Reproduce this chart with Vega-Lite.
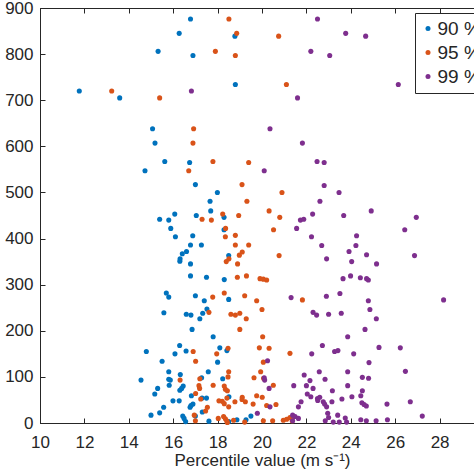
{
"$schema": "https://vega.github.io/schema/vega-lite/v6.json",
"width": 444, "height": 415,
"autosize": {"type": "none"},
"padding": {"left": 40, "top": 8, "right": 0, "bottom": 51},
"config": {
  "font": "Liberation Sans",
  "view": {"stroke": "#262626", "strokeWidth": 1},
  "axis": {"domainColor": "#262626", "tickColor": "#262626", "labelColor": "#262626", "titleColor": "#262626", "grid": false, "labelFontSize": 17, "titleFontSize": 17, "titleFontWeight": "normal", "tickSize": -5, "domainWidth": 1, "tickWidth": 1, "labelFlush": false}
},
"datasets": {
"pts": [
{"series":"90 %","value":16.78,"height":876},{"series":"90 %","value":16.27,"height":845},{"series":"90 %","value":15.32,"height":806},{"series":"90 %","value":16.89,"height":797},{"series":"90 %","value":18.78,"height":839},{"series":"90 %","value":18.8,"height":734},{"series":"90 %","value":15.07,"height":638},{"series":"90 %","value":15.18,"height":607},{"series":"90 %","value":15.62,"height":567},{"series":"90 %","value":16.74,"height":565},{"series":"90 %","value":14.73,"height":547},{"series":"90 %","value":17.0,"height":517},{"series":"90 %","value":11.77,"height":720},{"series":"90 %","value":13.59,"height":705},{"series":"90 %","value":17.99,"height":500},{"series":"90 %","value":17.66,"height":481},{"series":"90 %","value":17.69,"height":460},{"series":"90 %","value":18.29,"height":446},{"series":"90 %","value":17.04,"height":450},{"series":"90 %","value":16.07,"height":453},{"series":"90 %","value":15.39,"height":442},{"series":"90 %","value":15.8,"height":440},{"series":"90 %","value":15.89,"height":422},{"series":"90 %","value":16.1,"height":404},{"series":"90 %","value":16.88,"height":406},{"series":"90 %","value":18.29,"height":419},{"series":"90 %","value":16.78,"height":386},{"series":"90 %","value":17.27,"height":386},{"series":"90 %","value":16.6,"height":372},{"series":"90 %","value":16.41,"height":367},{"series":"90 %","value":16.31,"height":356},{"series":"90 %","value":16.3,"height":351},{"series":"90 %","value":16.78,"height":345},{"series":"90 %","value":18.5,"height":363},{"series":"90 %","value":16.78,"height":319},{"series":"90 %","value":17.5,"height":316},{"series":"90 %","value":18.3,"height":311},{"series":"90 %","value":15.69,"height":282},{"series":"90 %","value":15.8,"height":273},{"series":"90 %","value":17.0,"height":276},{"series":"90 %","value":17.4,"height":265},{"series":"90 %","value":18.5,"height":268},{"series":"90 %","value":17.52,"height":247},{"series":"90 %","value":17.33,"height":238},{"series":"90 %","value":17.2,"height":226},{"series":"90 %","value":15.58,"height":239},{"series":"90 %","value":16.59,"height":236},{"series":"90 %","value":16.8,"height":234},{"series":"90 %","value":16.85,"height":203},{"series":"90 %","value":17.8,"height":187},{"series":"90 %","value":16.29,"height":168},{"series":"90 %","value":18.1,"height":163},{"series":"90 %","value":14.79,"height":155},{"series":"90 %","value":16.08,"height":150},{"series":"90 %","value":16.58,"height":156},{"series":"90 %","value":18.42,"height":157},{"series":"90 %","value":18.0,"height":132},{"series":"90 %","value":15.5,"height":134},{"series":"90 %","value":17.58,"height":111},{"series":"90 %","value":15.8,"height":111},{"series":"90 %","value":16.32,"height":105},{"series":"90 %","value":14.55,"height":93},{"series":"90 %","value":15.8,"height":95},{"series":"90 %","value":15.87,"height":93},{"series":"90 %","value":17.28,"height":98},{"series":"90 %","value":18.23,"height":96},{"series":"90 %","value":15.82,"height":82},{"series":"90 %","value":16.45,"height":80},{"series":"90 %","value":16.38,"height":75},{"series":"90 %","value":16.3,"height":71},{"series":"90 %","value":15.3,"height":75},{"series":"90 %","value":15.17,"height":63},{"series":"90 %","value":16.82,"height":59},{"series":"90 %","value":17.3,"height":54},{"series":"90 %","value":17.5,"height":54},{"series":"90 %","value":15.99,"height":48},{"series":"90 %","value":16.27,"height":48},{"series":"90 %","value":18.51,"height":57},{"series":"90 %","value":16.89,"height":41},{"series":"90 %","value":16.76,"height":34},{"series":"90 %","value":16.8,"height":38},{"series":"90 %","value":15.57,"height":34},{"series":"90 %","value":15.39,"height":22},{"series":"90 %","value":15.0,"height":17},{"series":"90 %","value":17.31,"height":24},{"series":"90 %","value":17.0,"height":15},{"series":"90 %","value":16.43,"height":15},{"series":"90 %","value":16.49,"height":10},{"series":"90 %","value":16.56,"height":3},{"series":"90 %","value":17.61,"height":4},{"series":"90 %","value":18.5,"height":3},{"series":"90 %","value":18.87,"height":7},{"series":"90 %","value":19.28,"height":7},{"series":"90 %","value":19.5,"height":15},
{"series":"95 %","value":18.51,"height":876},{"series":"95 %","value":18.86,"height":845},{"series":"95 %","value":20.75,"height":839},{"series":"95 %","value":17.9,"height":806},{"series":"95 %","value":18.8,"height":797},{"series":"95 %","value":21.1,"height":734},{"series":"95 %","value":15.39,"height":705},{"series":"95 %","value":16.92,"height":638},{"series":"95 %","value":16.89,"height":607},{"series":"95 %","value":17.79,"height":567},{"series":"95 %","value":19.4,"height":565},{"series":"95 %","value":16.7,"height":547},{"series":"95 %","value":19.1,"height":517},{"series":"95 %","value":13.23,"height":720},{"series":"95 %","value":18.23,"height":453},{"series":"95 %","value":17.72,"height":440},{"series":"95 %","value":17.3,"height":442},{"series":"95 %","value":18.36,"height":422},{"series":"95 %","value":18.35,"height":404},{"series":"95 %","value":18.8,"height":407},{"series":"95 %","value":18.95,"height":450},{"series":"95 %","value":20.9,"height":500},{"series":"95 %","value":19.32,"height":481},{"series":"95 %","value":20.32,"height":460},{"series":"95 %","value":20.8,"height":446},{"series":"95 %","value":20.52,"height":419},{"series":"95 %","value":18.8,"height":386},{"series":"95 %","value":19.4,"height":386},{"series":"95 %","value":19.11,"height":371},{"series":"95 %","value":18.98,"height":364},{"series":"95 %","value":18.51,"height":356},{"series":"95 %","value":18.39,"height":350},{"series":"95 %","value":18.9,"height":345},{"series":"95 %","value":18.89,"height":316},{"series":"95 %","value":19.3,"height":319},{"series":"95 %","value":17.78,"height":273},{"series":"95 %","value":18.3,"height":282},{"series":"95 %","value":19.22,"height":276},{"series":"95 %","value":20.77,"height":363},{"series":"95 %","value":19.91,"height":313},{"series":"95 %","value":20.06,"height":312},{"series":"95 %","value":20.21,"height":310},{"series":"95 %","value":19.76,"height":265},{"series":"95 %","value":21.82,"height":267},{"series":"95 %","value":17.61,"height":240},{"series":"95 %","value":18.6,"height":236},{"series":"95 %","value":18.8,"height":234},{"series":"95 %","value":19.0,"height":238},{"series":"95 %","value":19.29,"height":226},{"series":"95 %","value":19.0,"height":203},{"series":"95 %","value":20.0,"height":246},{"series":"95 %","value":20.03,"height":187},{"series":"95 %","value":19.88,"height":163},{"series":"95 %","value":20.32,"height":162},{"series":"95 %","value":21.26,"height":151},{"series":"95 %","value":16.9,"height":155},{"series":"95 %","value":18.47,"height":162},{"series":"95 %","value":17.96,"height":150},{"series":"95 %","value":17.01,"height":134},{"series":"95 %","value":18.5,"height":111},{"series":"95 %","value":18.47,"height":100},{"series":"95 %","value":16.31,"height":93},{"series":"95 %","value":17.2,"height":96},{"series":"95 %","value":17.16,"height":81},{"series":"95 %","value":17.8,"height":82},{"series":"95 %","value":18.3,"height":80},{"series":"95 %","value":18.35,"height":73},{"series":"95 %","value":18.44,"height":70},{"series":"95 %","value":17.19,"height":75},{"series":"95 %","value":17.01,"height":64},{"series":"95 %","value":17.24,"height":52},{"series":"95 %","value":18.06,"height":48},{"series":"95 %","value":18.21,"height":47},{"series":"95 %","value":18.42,"height":54},{"series":"95 %","value":18.78,"height":46},{"series":"95 %","value":19.11,"height":56},{"series":"95 %","value":19.25,"height":46},{"series":"95 %","value":18.3,"height":42},{"series":"95 %","value":18.5,"height":35},{"series":"95 %","value":17.54,"height":34},{"series":"95 %","value":17.46,"height":26},{"series":"95 %","value":16.95,"height":17},{"series":"95 %","value":18.03,"height":10},{"series":"95 %","value":18.27,"height":14},{"series":"95 %","value":18.35,"height":9},{"series":"95 %","value":18.41,"height":5},{"series":"95 %","value":18.44,"height":1},{"series":"95 %","value":17.0,"height":5},{"series":"95 %","value":18.72,"height":6},{"series":"95 %","value":19.22,"height":2},{"series":"95 %","value":20.06,"height":132},{"series":"95 %","value":19.94,"height":111},{"series":"95 %","value":19.64,"height":98},{"series":"95 %","value":20.51,"height":82},{"series":"95 %","value":19.76,"height":59},{"series":"95 %","value":20.01,"height":56},{"series":"95 %","value":19.6,"height":41},{"series":"95 %","value":20.21,"height":38},{"series":"95 %","value":20.63,"height":40},{"series":"95 %","value":20.06,"height":5},{"series":"95 %","value":20.48,"height":5},{"series":"95 %","value":20.96,"height":6},{"series":"95 %","value":21.11,"height":8},{"series":"95 %","value":21.26,"height":12},{"series":"95 %","value":21.41,"height":14},{"series":"95 %","value":21.36,"height":5},{"series":"95 %","value":19.1,"height":51},{"series":"95 %","value":20.07,"height":97},
{"series":"99 %","value":16.82,"height":720},{"series":"99 %","value":21.6,"height":705},{"series":"99 %","value":20.36,"height":638},{"series":"99 %","value":21.82,"height":607},{"series":"99 %","value":20.1,"height":547},{"series":"99 %","value":22.2,"height":806},{"series":"99 %","value":22.5,"height":876},{"series":"99 %","value":23.77,"height":845},{"series":"99 %","value":24.67,"height":839},{"series":"99 %","value":23.05,"height":797},{"series":"99 %","value":26.14,"height":734},{"series":"99 %","value":22.48,"height":567},{"series":"99 %","value":22.8,"height":565},{"series":"99 %","value":22.8,"height":515},{"series":"99 %","value":23.47,"height":500},{"series":"99 %","value":22.61,"height":481},{"series":"99 %","value":24.92,"height":460},{"series":"99 %","value":22.28,"height":453},{"series":"99 %","value":23.68,"height":450},{"series":"99 %","value":21.73,"height":440},{"series":"99 %","value":21.88,"height":442},{"series":"99 %","value":26.95,"height":446},{"series":"99 %","value":21.56,"height":422},{"series":"99 %","value":26.43,"height":419},{"series":"99 %","value":22.23,"height":404},{"series":"99 %","value":24.26,"height":406},{"series":"99 %","value":22.69,"height":385},{"series":"99 %","value":24.23,"height":385},{"series":"99 %","value":23.92,"height":372},{"series":"99 %","value":22.91,"height":356},{"series":"99 %","value":24.04,"height":350},{"series":"99 %","value":24.71,"height":365},{"series":"99 %","value":23.65,"height":313},{"series":"99 %","value":23.99,"height":319},{"series":"99 %","value":24.43,"height":315},{"series":"99 %","value":24.71,"height":313},{"series":"99 %","value":24.79,"height":310},{"series":"99 %","value":21.31,"height":272},{"series":"99 %","value":22.9,"height":275},{"series":"99 %","value":23.51,"height":281},{"series":"99 %","value":24.79,"height":265},{"series":"99 %","value":26.87,"height":363},{"series":"99 %","value":25.16,"height":345},{"series":"99 %","value":28.18,"height":267},{"series":"99 %","value":24.86,"height":246},{"series":"99 %","value":25.15,"height":226},{"series":"99 %","value":24.64,"height":203},{"series":"99 %","value":25.27,"height":164},{"series":"99 %","value":26.23,"height":163},{"series":"99 %","value":24.82,"height":131},{"series":"99 %","value":26.46,"height":112},{"series":"99 %","value":24.8,"height":97},{"series":"99 %","value":24.7,"height":37},{"series":"99 %","value":25.63,"height":41},{"series":"99 %","value":26.68,"height":46},{"series":"99 %","value":27.22,"height":15},{"series":"99 %","value":24.7,"height":5},{"series":"99 %","value":25.14,"height":5},{"series":"99 %","value":25.65,"height":7},{"series":"99 %","value":22.3,"height":240},{"series":"99 %","value":22.46,"height":234},{"series":"99 %","value":23.0,"height":236},{"series":"99 %","value":23.57,"height":238},{"series":"99 %","value":23.86,"height":187},{"series":"99 %","value":22.72,"height":168},{"series":"99 %","value":22.24,"height":150},{"series":"99 %","value":23.27,"height":155},{"series":"99 %","value":23.42,"height":157},{"series":"99 %","value":24.13,"height":150},{"series":"99 %","value":20.25,"height":135},{"series":"99 %","value":20.1,"height":98},{"series":"99 %","value":20.12,"height":93},{"series":"99 %","value":22.58,"height":111},{"series":"99 %","value":21.9,"height":104},{"series":"99 %","value":22.84,"height":95},{"series":"99 %","value":22.16,"height":92},{"series":"99 %","value":23.86,"height":111},{"series":"99 %","value":24.52,"height":99},{"series":"99 %","value":20.32,"height":75},{"series":"99 %","value":21.43,"height":81},{"series":"99 %","value":22.0,"height":81},{"series":"99 %","value":22.3,"height":75},{"series":"99 %","value":23.17,"height":70},{"series":"99 %","value":23.86,"height":81},{"series":"99 %","value":24.52,"height":70},{"series":"99 %","value":22.04,"height":63},{"series":"99 %","value":22.2,"height":57},{"series":"99 %","value":22.5,"height":53},{"series":"99 %","value":22.6,"height":56},{"series":"99 %","value":21.76,"height":46},{"series":"99 %","value":21.64,"height":35},{"series":"99 %","value":22.76,"height":46},{"series":"99 %","value":22.82,"height":41},{"series":"99 %","value":22.91,"height":35},{"series":"99 %","value":23.15,"height":46},{"series":"99 %","value":23.6,"height":52},{"series":"99 %","value":24.05,"height":57},{"series":"99 %","value":24.45,"height":59},{"series":"99 %","value":24.5,"height":44},{"series":"99 %","value":24.6,"height":40},{"series":"99 %","value":20.36,"height":35},{"series":"99 %","value":19.79,"height":21},{"series":"99 %","value":21.38,"height":17},{"series":"99 %","value":21.49,"height":14},{"series":"99 %","value":21.64,"height":10},{"series":"99 %","value":22.96,"height":21},{"series":"99 %","value":23.0,"height":12},{"series":"99 %","value":23.41,"height":17},{"series":"99 %","value":23.75,"height":11},{"series":"99 %","value":22.85,"height":5},{"series":"99 %","value":23.21,"height":2},{"series":"99 %","value":23.48,"height":2},{"series":"99 %","value":23.81,"height":2},{"series":"99 %","value":24.45,"height":7},{"series":"99 %","value":22.51,"height":49},{"series":"99 %","value":21.38,"height":5}
]
},
"data": {"name": "pts"},
"layer": [
  {
    "mark": {"type": "circle", "size": 26, "opacity": 1},
    "encoding": {
      "x": {"field": "value", "type": "quantitative", "scale": {"domain": [10, 30], "nice": false, "zero": false},
            "axis": {"orient": "bottom", "values": [10,12,14,16,18,20,22,24,26,28], "title": "Percentile value (m s⁻¹)", "labelPadding": 16, "titlePadding": 2}},
      "y": {"field": "height", "type": "quantitative", "scale": {"domain": [0, 900], "nice": false},
            "axis": {"values": [0,100,200,300,400,500,600,700,800,900], "title": null, "labelPadding": 12}},
      "color": {"field": "series", "type": "nominal",
                "scale": {"domain": ["90 %", "95 %", "99 %"], "range": ["#0072BD", "#D95319", "#7E2F8E"]},
                "legend": {"orient": "none", "legendX": 375, "legendY": 5, "title": null, "strokeColor": "#262626", "fillColor": "white", "padding": 6, "labelFontSize": 19, "labelColor": "#262626", "symbolSize": 25, "symbolType": "circle", "rowPadding": 4, "labelOffset": 0, "symbolOffset": -2.5}}
    }
  },
  {
    "mark": {"type": "circle", "opacity": 0},
    "encoding": {
      "x": {"field": "value", "type": "quantitative",
            "axis": {"orient": "top", "values": [10,12,14,16,18,20,22,24,26,28,30], "labels": false, "domain": false, "title": null}}
    }
  }
],
"resolve": {"axis": {"x": "independent"}}
}
